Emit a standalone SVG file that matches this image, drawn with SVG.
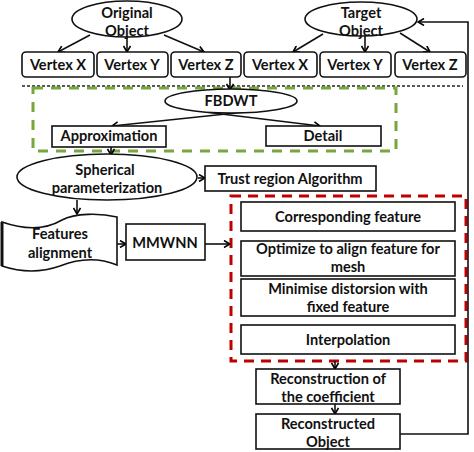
<svg xmlns="http://www.w3.org/2000/svg" width="474" height="452" viewBox="0 0 474 452">
<defs>
<marker id="ah" markerWidth="8" markerHeight="8" refX="7" refY="4" orient="auto" markerUnits="userSpaceOnUse">
<path d="M1,0.5 L7,4 L1,7.5" fill="none" stroke="#000" stroke-width="1.6"/>
</marker>
<style>
.t{font-family:Lato,"Open Sans","Liberation Sans",sans-serif;font-weight:bold;font-size:14.6px;fill:#111;text-anchor:middle}
.b{fill:#fff;stroke:#111;stroke-width:1.6}
.c{fill:none;stroke:#111;stroke-width:1.6;marker-end:url(#ah)}
</style>
</defs>
<rect width="474" height="452" fill="#fff"/>

<g id="groups">
<line x1="22" y1="86" x2="463" y2="86" stroke="#222" stroke-width="1.5" stroke-dasharray="3 2"/>
<rect x="33" y="88" width="363" height="63" fill="none" stroke="#77a83a" stroke-width="3" stroke-dasharray="10 8"/>
<rect x="231" y="196" width="235" height="165" fill="none" stroke="#c00000" stroke-width="3" stroke-dasharray="10 7"/>
</g>

<g id="connectors">
<line class="c" x1="90" y1="35" x2="58" y2="52"/>
<line class="c" x1="127" y1="37" x2="127" y2="52"/>
<line class="c" x1="164" y1="35" x2="204" y2="52"/>
<line class="c" x1="323" y1="34" x2="293" y2="52"/>
<line class="c" x1="365" y1="36" x2="365" y2="52"/>
<line class="c" x1="400" y1="33" x2="430" y2="52"/>
<line class="c" x1="230" y1="77" x2="230" y2="90"/>
<polyline class="c" points="245,112 112,126"/>
<polyline class="c" points="205,112 320,126"/>
<line class="c" x1="111" y1="147" x2="111" y2="155"/>
<line class="c" x1="198" y1="178" x2="205" y2="178"/>
<line class="c" x1="77" y1="200" x2="77" y2="214"/>
<line class="c" x1="117" y1="244" x2="126" y2="244"/>
<line class="c" x1="205" y1="244" x2="230" y2="244"/>
<line class="c" x1="335" y1="361" x2="335" y2="369"/>
<line class="c" x1="335" y1="404" x2="335" y2="414"/>
<polyline class="c" points="400,434 468,434 468,22 418,22"/>
</g>

<g id="original-object"><ellipse class="b" cx="127" cy="19" rx="55" ry="18"/><text class="t" x="127" y="18">Original</text><text class="t" x="127" y="36">Object</text></g>
<g id="target-object"><ellipse class="b" cx="361" cy="19" rx="56" ry="17"/><text class="t" x="361" y="18">Target</text><text class="t" x="361" y="36">Object</text></g>

<g id="o-vx"><rect class="b" x="22" y="52" width="72" height="25" rx="4"/><text class="t" x="58" y="70">Vertex X</text></g>
<g id="o-vy"><rect class="b" x="97" y="52" width="71" height="25" rx="4"/><text class="t" x="132" y="70">Vertex Y</text></g>
<g id="o-vz"><rect class="b" x="171" y="52" width="70" height="25" rx="4"/><text class="t" x="206" y="70">Vertex Z</text></g>
<g id="t-vx"><rect class="b" x="244" y="52" width="73" height="25" rx="4"/><text class="t" x="280" y="70">Vertex X</text></g>
<g id="t-vy"><rect class="b" x="320" y="52" width="71" height="25" rx="4"/><text class="t" x="355" y="70">Vertex Y</text></g>
<g id="t-vz"><rect class="b" x="395" y="52" width="71" height="25" rx="4"/><text class="t" x="430" y="70">Vertex Z</text></g>

<g id="fbdwt"><ellipse class="b" cx="231" cy="101" rx="66" ry="12"/><text class="t" x="231" y="106">FBDWT</text></g>
<g id="approximation"><rect class="b" x="52" y="126" width="114" height="21"/><text class="t" x="109" y="141">Approximation</text></g>
<g id="detail"><rect class="b" x="266" y="126" width="115" height="20"/><text class="t" x="323" y="141">Detail</text></g>

<g id="spherical"><ellipse class="b" cx="107" cy="177" rx="90" ry="23"/><text class="t" x="105" y="175">Spherical</text><text class="t" x="107" y="193">parameterization</text></g>
<g id="trust"><rect class="b" x="205" y="166" width="171" height="25"/><text class="t" x="290" y="184">Trust region Algorithm</text></g>

<g id="features"><path class="b" d="M2,222 C25,230 45,230 62,220 C75,213 100,213 117,217 L117,265 C100,258 80,258 60,266 C40,273 20,272 2,266 Z"/><line x1="2" y1="222" x2="2" y2="266" stroke="#111" stroke-width="3"/><text class="t" x="60" y="239">Features</text><text class="t" x="60" y="258">alignment</text></g>
<g id="mmwnn"><rect class="b" x="126" y="224" width="79" height="36"/><text class="t" x="165" y="248">MMWNN</text></g>

<g id="corresponding"><rect class="b" x="241" y="202" width="214" height="29"/><text class="t" x="348" y="222">Corresponding feature</text></g>
<g id="optimize"><rect class="b" x="241" y="241" width="214" height="35"/><text class="t" x="348" y="254">Optimize to align feature for</text><text class="t" x="348" y="272">mesh</text></g>
<g id="minimise"><rect class="b" x="241" y="279" width="214" height="37"/><text class="t" x="348" y="294">Minimise distorsion with</text><text class="t" x="348" y="312">fixed feature</text></g>
<g id="interpolation"><rect class="b" x="241" y="325" width="214" height="29"/><text class="t" x="348" y="345">Interpolation</text></g>

<g id="reconstruction"><rect class="b" x="256" y="369" width="144" height="35"/><text class="t" x="328" y="384">Reconstruction of</text><text class="t" x="328" y="402">the coefficient</text></g>
<g id="reconstructed"><rect class="b" x="256" y="414" width="144" height="35"/><text class="t" x="328" y="429">Reconstructed</text><text class="t" x="328" y="447">Object</text></g>
</svg>
